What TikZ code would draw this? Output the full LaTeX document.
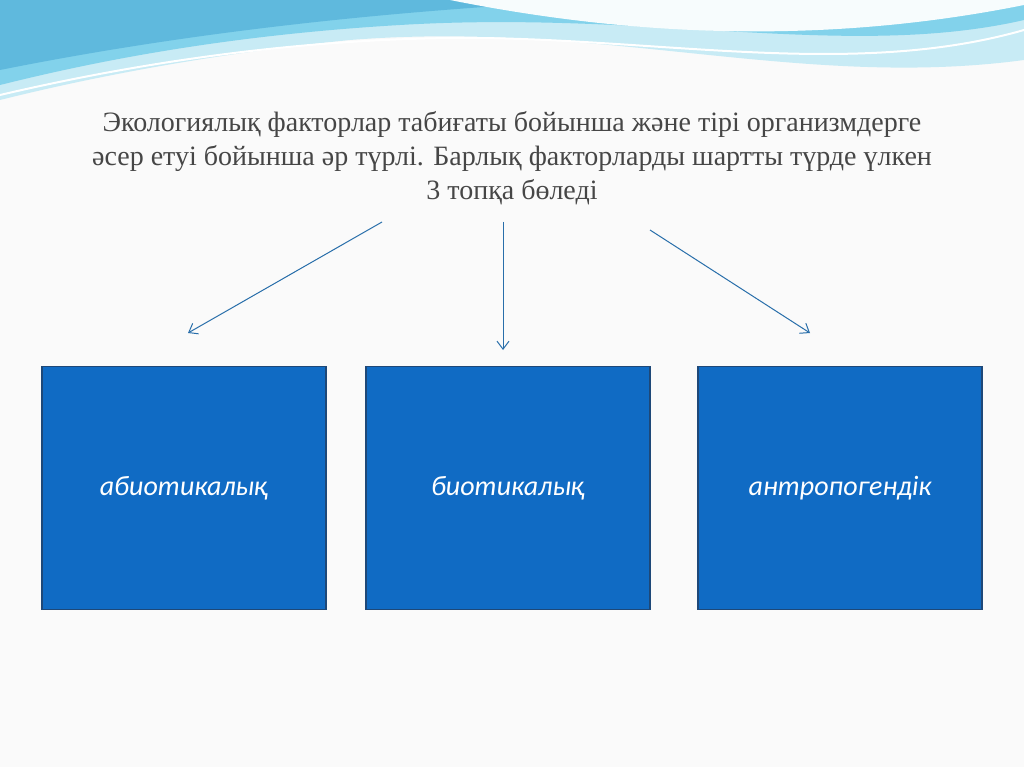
\documentclass[tikz,border=0pt]{standalone}
\usepackage{fontspec}
\setmainfont{Liberation Serif}
\newfontfamily\boxfont{Carlito}
\usetikzlibrary{positioning,arrows.meta}
\definecolor{boxblue}{RGB}{16,107,196}
\definecolor{boxedge}{RGB}{30,72,120}
\definecolor{arrowblue}{RGB}{40,110,170}
\definecolor{titlegray}{RGB}{70,70,70}
\definecolor{wavelight}{RGB}{200,235,245}
\definecolor{wavemid}{RGB}{130,210,235}
\definecolor{wavedark}{RGB}{80,175,215}
\tikzset{
  factorbox/.style={draw=boxedge,line width=1.5pt,fill=boxblue,minimum width=284pt,
    minimum height=243pt,text=white,font=\boxfont\itshape\fontsize{28}{32}\selectfont},
  factorarrow/.style={arrowblue,line width=1pt,-{Straight Barb[length=8pt,width=12pt]}}
}
\begin{document}
\begin{tikzpicture}[x=1pt,y=-1pt]
		
		\fill[white!96!gray] (0,0) rectangle (1024,767);
		\useasboundingbox (0,0) rectangle (1024,767);
		
		% waves on top
		\fill[wavelight] (0,0) -- (1024,0) -- (1024,60) .. controls (800,90) and (600,20) .. (350,40) .. controls (200,55) and (80,80) .. (0,100) -- cycle;
		\fill[wavemid] (0,0) -- (1024,0) -- (1024,20) .. controls (850,60) and (650,10) .. (400,25) .. controls (230,35) and (100,60) .. (0,85) -- cycle;
		\fill[wavedark!70!wavemid] (0,0) -- (600,0) .. controls (400,10) and (200,30) .. (0,70) -- cycle;
		\fill[white!85!wavelight] (450,0) .. controls (600,30) and (800,50) .. (1024,5) -- (1024,0) -- cycle;
		\draw[white,line width=2pt] (0,95) .. controls (150,60) and (300,40) .. (450,38) .. controls (650,36) and (850,80) .. (1024,30);
		
		\node[align=center,text=titlegray,font=\fontsize{28}{34}\selectfont] (T) at (512,158)
		{Экологиялық факторлар табиғаты бойынша және тірі организмдерге\\
		 әсер етуі бойынша әр түрлі. Барлық факторларды шартты түрде үлкен\\
		 3 топқа бөледі};
		
		\node[factorbox] (A) at (184,488) {абиотикалық};
		\node[factorbox] (B) at (508,488) {биотикалық};
		\node[factorbox] (C) at (840,488) {антропогендік};
		
		\coordinate (sA) at (382,222);
		\coordinate (sB) at (503,222);
		\coordinate (sC) at (650,230);
		\coordinate (eA) at (188,333);
		\coordinate (eB) at (503,350);
		\coordinate (eC) at (810,333);
		
		\draw[factorarrow] (sA) -- (eA);
		\draw[factorarrow] (sB) -- (eB);
		\draw[factorarrow] (sC) -- (eC);
		\end{tikzpicture}
\end{document}
